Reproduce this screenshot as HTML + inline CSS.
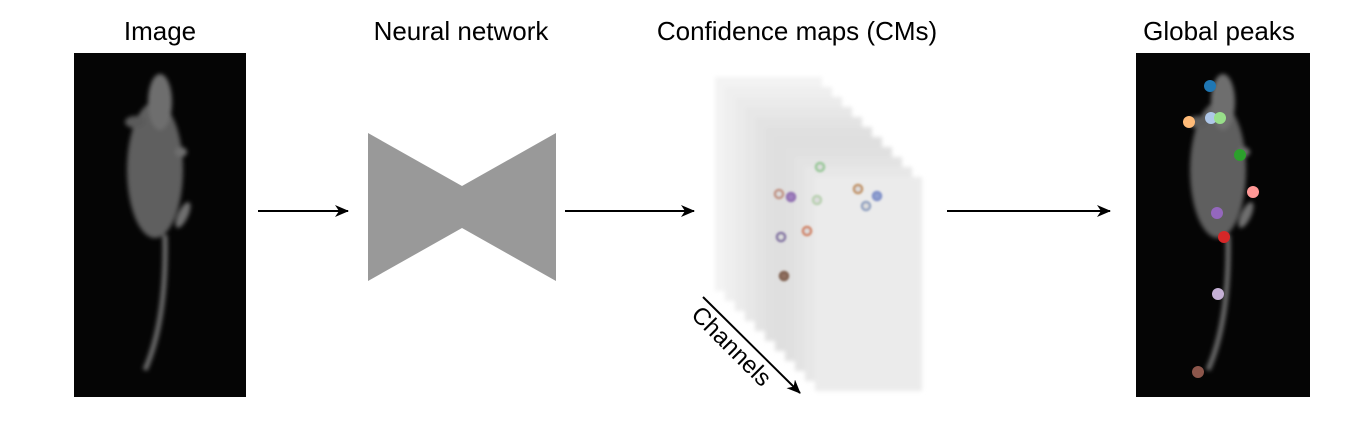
<!DOCTYPE html>
<html><head><style>
body{margin:0;background:#fff;width:1358px;height:419px;overflow:hidden;font-family:"Liberation Sans",sans-serif}
</style></head><body>
<svg width="1358" height="419" viewBox="0 0 1358 419" xmlns="http://www.w3.org/2000/svg" font-family="Liberation Sans, sans-serif">
<defs>
<marker id="ah" markerWidth="14" markerHeight="12" refX="13" refY="6" orient="auto" markerUnits="userSpaceOnUse"><path d="M0,0 L14,6 L0,12 L4,6 z" fill="#000"/></marker>
<filter id="bl"><feGaussianBlur stdDeviation="2"/></filter>
<filter id="bl2"><feGaussianBlur stdDeviation="1"/></filter>
<g id="mouse">
<ellipse cx="0" cy="0" rx="28" ry="68" fill="#5e5e5e"/>
<ellipse cx="5" cy="-68" rx="12" ry="28" fill="#6e6e6e"/>
<ellipse cx="-20" cy="-48" rx="10" ry="6" fill="#5a5a5a"/>
<ellipse cx="26" cy="-18" rx="6" ry="5" fill="#6e6e6e"/>
<ellipse cx="28" cy="45" rx="5" ry="14" fill="#707070" transform="rotate(25 28 45)"/>
<path d="M10,65 Q12,150 -10,200" stroke="#6e6e6e" stroke-width="5" fill="none"/>
</g>
</defs>
<g font-size="26" text-anchor="middle" fill="#000">
<text x="160" y="40">Image</text>
<text x="461" y="40">Neural network</text>
<text x="797" y="40">Confidence maps (CMs)</text>
<text x="1219" y="40">Global peaks</text>
</g>
<rect x="74" y="53" width="172" height="344" fill="#050505"/>
<g filter="url(#bl)" transform="translate(155,170)"><use href="#mouse"/></g>
<rect x="1136" y="53" width="174" height="344" fill="#050505"/>
<g filter="url(#bl)" transform="translate(1218,170)"><use href="#mouse"/></g>
<g>
<circle cx="1210" cy="86" r="6" fill="#1f77b4"/>
<circle cx="1189" cy="122" r="6" fill="#ffbb78"/>
<circle cx="1211" cy="118" r="6" fill="#aec7e8"/>
<circle cx="1220" cy="118" r="6" fill="#98df8a"/>
<circle cx="1240" cy="155" r="6" fill="#2ca02c"/>
<circle cx="1253" cy="192" r="6" fill="#ff9896"/>
<circle cx="1217" cy="213" r="6" fill="#9467bd"/>
<circle cx="1224" cy="237" r="6" fill="#d62728"/>
<circle cx="1218" cy="294" r="6" fill="#c5b0d5"/>
<circle cx="1198" cy="372" r="6" fill="#8c564b"/>
</g>
<line x1="258" y1="211" x2="348" y2="211" stroke="#000" stroke-width="2" marker-end="url(#ah)"/>
<polygon points="368,133 462,186 556,133 556,281 462,228 368,281" fill="#999"/>
<line x1="565" y1="211" x2="694" y2="211" stroke="#000" stroke-width="2" marker-end="url(#ah)"/>
<line x1="947" y1="211" x2="1110" y2="211" stroke="#000" stroke-width="2" marker-end="url(#ah)"/>
<g filter="url(#bl)">
<rect x="715" y="77" width="107" height="214" fill="#f3f3f3"/>
<rect x="725" y="87" width="107" height="214" fill="#efefef"/>
<rect x="735" y="97" width="107" height="214" fill="#ebebeb"/>
<rect x="745" y="107" width="107" height="214" fill="#e7e7e7"/>
<rect x="755" y="117" width="107" height="214" fill="#e3e3e3"/>
<rect x="765" y="127" width="107" height="214" fill="#e0e0e0"/>
<rect x="775" y="137" width="107" height="214" fill="#dfdfdf"/>
<rect x="785" y="147" width="107" height="214" fill="#e0e0e0"/>
<rect x="795" y="157" width="107" height="214" fill="#e3e3e3"/>
<rect x="805" y="167" width="107" height="214" fill="#e7e7e7"/>
<rect x="815" y="177" width="107" height="214" fill="#ebebeb"/>
</g>
<g filter="url(#bl2)" stroke-width="2.5" fill="#ddd">
<circle cx="820" cy="167" r="4" stroke="#98c898"/>
<circle cx="779" cy="194" r="4" stroke="#c09080"/>
<circle cx="791" cy="197" r="4" stroke="#9070b0" fill="#a080c0"/>
<circle cx="817" cy="200" r="4" stroke="#b8d0b0"/>
<circle cx="858" cy="189" r="4" stroke="#c09060"/>
<circle cx="877" cy="196" r="4" stroke="#8090c8" fill="#90a0d0"/>
<circle cx="866" cy="206" r="4" stroke="#90a0c0"/>
<circle cx="807" cy="231" r="4" stroke="#d08060"/>
<circle cx="781" cy="237" r="4" stroke="#8070a0"/>
<circle cx="784" cy="276" r="4" stroke="#806050" fill="#907060"/>
</g>
<line x1="703" y1="297" x2="800" y2="393" stroke="#000" stroke-width="2" marker-end="url(#ah)"/>
<text x="0" y="0" font-size="24" transform="translate(690,316) rotate(45)">Channels</text>
</svg>
</body></html>
